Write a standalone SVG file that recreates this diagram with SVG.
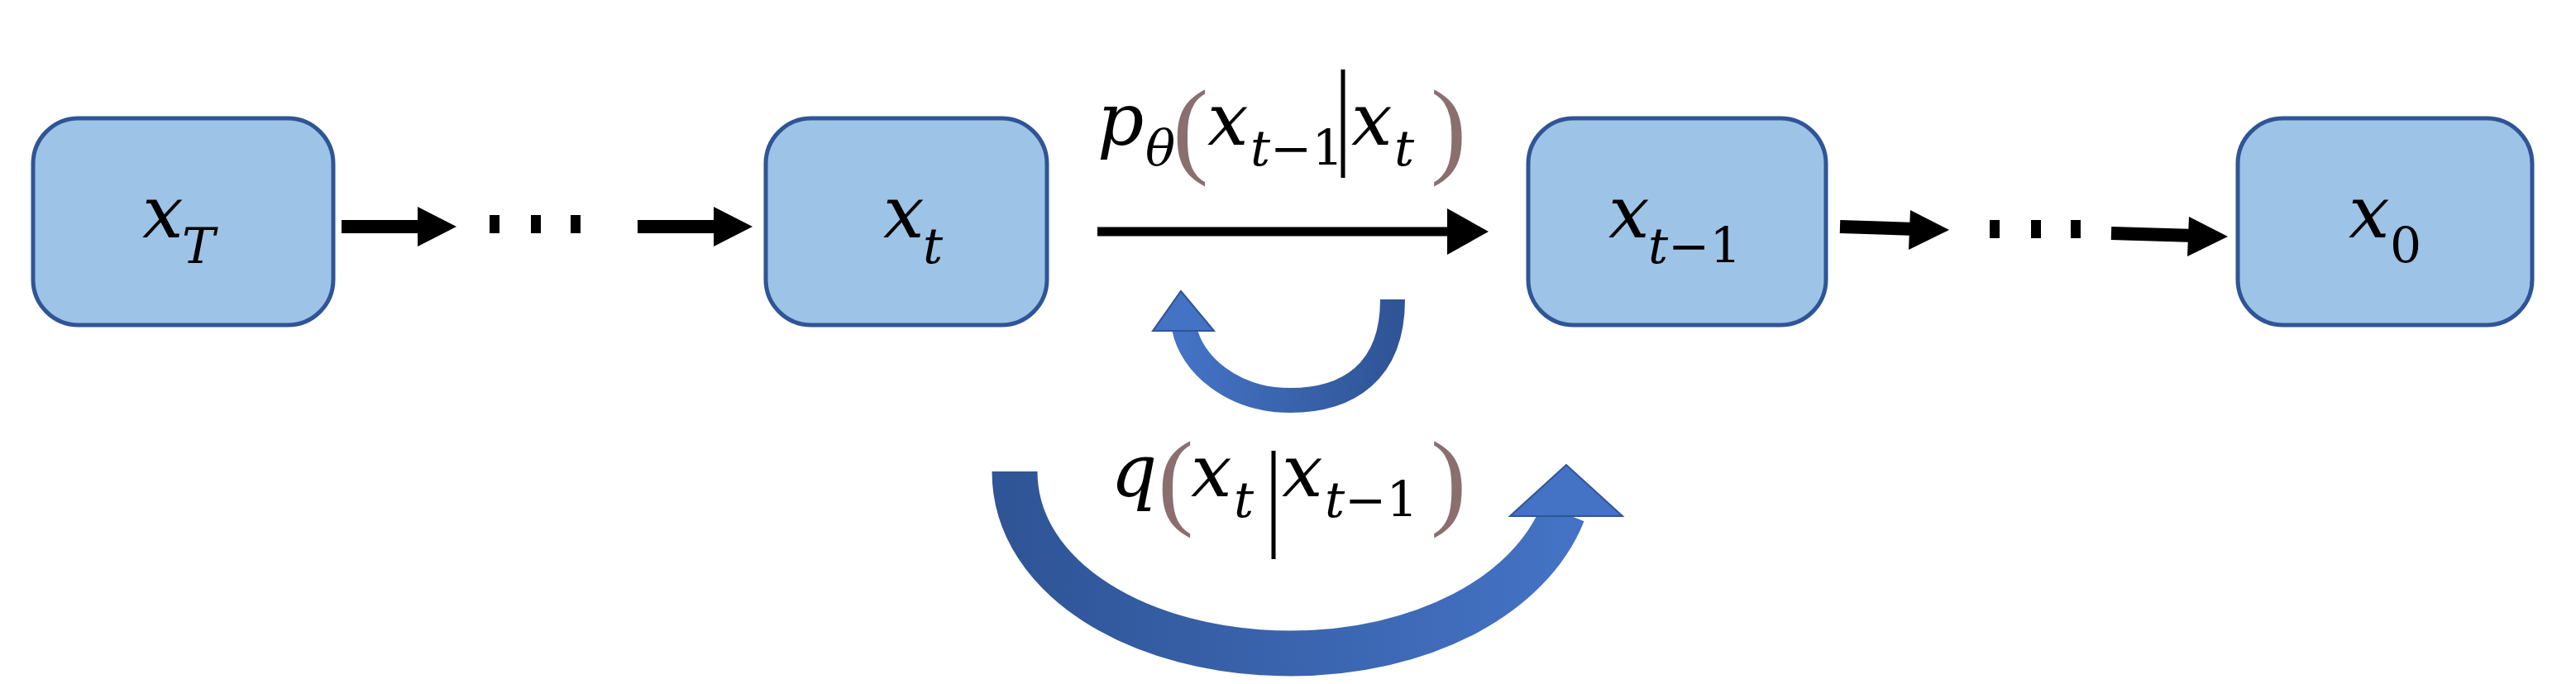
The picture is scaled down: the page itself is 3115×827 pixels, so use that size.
<svg xmlns="http://www.w3.org/2000/svg" width="3115" height="827" viewBox="0 0 3115 827">
<style>
.box{fill:#9dc3e6;stroke:#2f5597;stroke-width:5}
.m{font-family:"DejaVu Serif","Liberation Serif",serif;font-style:italic;fill:#000;font-size:88px}
.s{font-family:"DejaVu Serif","Liberation Serif",serif;font-style:italic;fill:#000;font-size:60px}
.n{font-style:normal}
.p{font-family:"Liberation Serif",serif;fill:#8b6f6f;font-size:130px}
.ar{stroke:#000;stroke-width:16;fill:none}
</style>
<defs>
<linearGradient id="g" x1="0" y1="0" x2="1" y2="0"><stop offset="0" stop-color="#2f5597"/><stop offset="1" stop-color="#4472c4"/></linearGradient>
<linearGradient id="g2" x1="1" y1="0" x2="0" y2="0"><stop offset="0" stop-color="#2f5597"/><stop offset="1" stop-color="#4472c4"/></linearGradient>
</defs>
<g id="nodeT"><rect class="box" x="40" y="143" width="363" height="250" rx="55"/><text class="m" x="172" y="287">x</text><text class="s" x="220" y="318">T</text></g>
<g id="nodet"><rect class="box" x="926" y="143" width="340" height="250" rx="55"/><text class="m" x="1068" y="287">x</text><text class="s" x="1116" y="318">t</text></g>
<g id="nodet1"><rect class="box" x="1848" y="143" width="360" height="250" rx="55"/><text class="m" x="1945" y="287">x</text><text class="s" x="1993" y="318">t−<tspan class="n">1</tspan></text></g>
<g id="node0"><rect class="box" x="2706" y="143" width="356" height="250" rx="55"/><text class="m" x="2840" y="287">x</text><text class="s n" x="2890" y="318">0</text></g>
<g id="connectors">
<line class="ar" x1="413" y1="274" x2="512" y2="274"/><polygon points="505,250 552,274 505,298"/>
<line class="ar" x1="771" y1="274" x2="870" y2="274"/><polygon points="863,250 910,274 863,298"/>
<line class="ar" x1="2225" y1="274" x2="2317" y2="277"/><polygon points="2310,254 2357,278 2308,302"/>
<line class="ar" x1="2553" y1="282" x2="2654" y2="285"/><polygon points="2647,262 2694,286 2645,310"/>
<g fill="#000"><rect x="592" y="260" width="12" height="22"/><rect x="642" y="260" width="12" height="22"/><rect x="690" y="260" width="12" height="22"/>
<rect x="2406" y="266" width="12" height="22"/><rect x="2456" y="266" width="12" height="22"/><rect x="2504" y="266" width="12" height="22"/></g>
<line x1="1327" y1="280" x2="1760" y2="280" stroke="#000" stroke-width="11"/><polygon points="1750,252 1800,280 1750,308"/>
<path d="M1684 362 C1684 450 1630 484 1560 484 C1490 484 1440 440 1432 396" fill="none" stroke="url(#g2)" stroke-width="30"/>
<polygon points="1394,400 1428,352 1468,400" fill="#4472c4" stroke="#2f5597" stroke-width="2"/>
<path d="M1227 570 C1227 700 1380 790 1560 790 C1720 790 1850 720 1890 620" fill="none" stroke="url(#g)" stroke-width="55"/>
<polygon points="1826,624 1894,562 1962,624" fill="#4472c4" stroke="#2f5597" stroke-width="2"/>
</g>
<g id="label-p">
<text class="m" x="1327" y="175">p</text><text class="s" x="1385" y="200">θ</text>
<text class="p" x="1418" y="198">(</text>
<text class="m" x="1460" y="175">x</text><text class="s" x="1512" y="200">t−<tspan class="n">1</tspan></text>
<line x1="1624" y1="84" x2="1624" y2="215" stroke="#000" stroke-width="5"/>
<text class="m" x="1634" y="175">x</text><text class="s" x="1686" y="200">t</text>
<text class="p" x="1730" y="198">)</text>
</g>
<g id="label-q">
<text class="m" x="1343" y="600">q</text>
<text class="p" x="1400" y="623">(</text>
<text class="m" x="1440" y="600">x</text><text class="s" x="1492" y="625">t</text>
<line x1="1540" y1="545" x2="1540" y2="676" stroke="#000" stroke-width="5"/>
<text class="m" x="1550" y="600">x</text><text class="s" x="1602" y="625">t−<tspan class="n">1</tspan></text>
<text class="p" x="1730" y="623">)</text>
</g>
</svg>
